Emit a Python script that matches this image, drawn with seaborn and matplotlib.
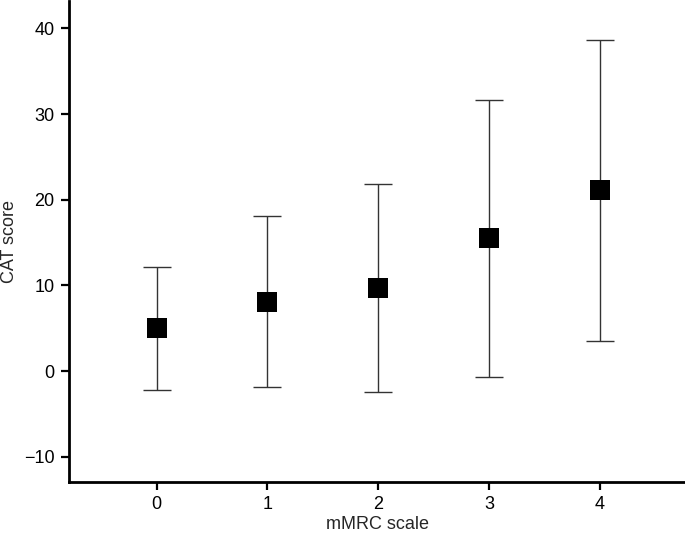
import numpy as np
import pandas as pd
import matplotlib
matplotlib.use("Agg")
import matplotlib.pyplot as plt
import seaborn as sns

# mMRC grade vs CAT score, mean +/- SD
mmrc = [0, 1, 2, 3, 4]
cat_mean = [5.0, 8.1, 9.7, 15.5, 21.1]
cat_sd = [7.2, 10.0, 12.1, 16.2, 17.6]

df = pd.DataFrame({"mmrc": mmrc, "cat": cat_mean, "sd": cat_sd})

sns.set_style("ticks")
plt.rcParams['font.family'] = ['Liberation Sans', 'DejaVu Sans']
plt.rcParams['font.size'] = 13

fig = plt.figure(figsize=(6.85, 5.34), dpi=100)
ax = fig.add_axes([0.101, 0.098, 0.899, 0.900])

ax.errorbar(df["mmrc"], df["cat"], yerr=df["sd"], fmt="none",
            ecolor="#333333", elinewidth=1.0, capsize=10, capthick=1.0, zorder=2)
sns.scatterplot(data=df, x="mmrc", y="cat", ax=ax, marker="s", s=190,
                color="black", edgecolor="black", linewidth=0, zorder=3)

ax.set_xlim(-0.79, 4.77)
ax.set_ylim(-12.9, 43.2)
ax.set_xticks(mmrc)
ax.set_yticks([-10, 0, 10, 20, 30, 40])
ax.set_yticklabels(["\u221210", "0", "10", "20", "30", "40"])
ax.set_xlabel("mMRC scale", fontsize=13, labelpad=2)
ax.set_ylabel("CAT score", fontsize=13, labelpad=4)

for s in ["top", "right"]:
    ax.spines[s].set_visible(False)
for s in ["left", "bottom"]:
    ax.spines[s].set_linewidth(2.0)
    ax.spines[s].set_color("black")
ax.tick_params(axis="both", direction="out", length=5.5, width=1.6,
               labelsize=13, colors="black", pad=5)

fig.savefig("out.png", dpi=100)
